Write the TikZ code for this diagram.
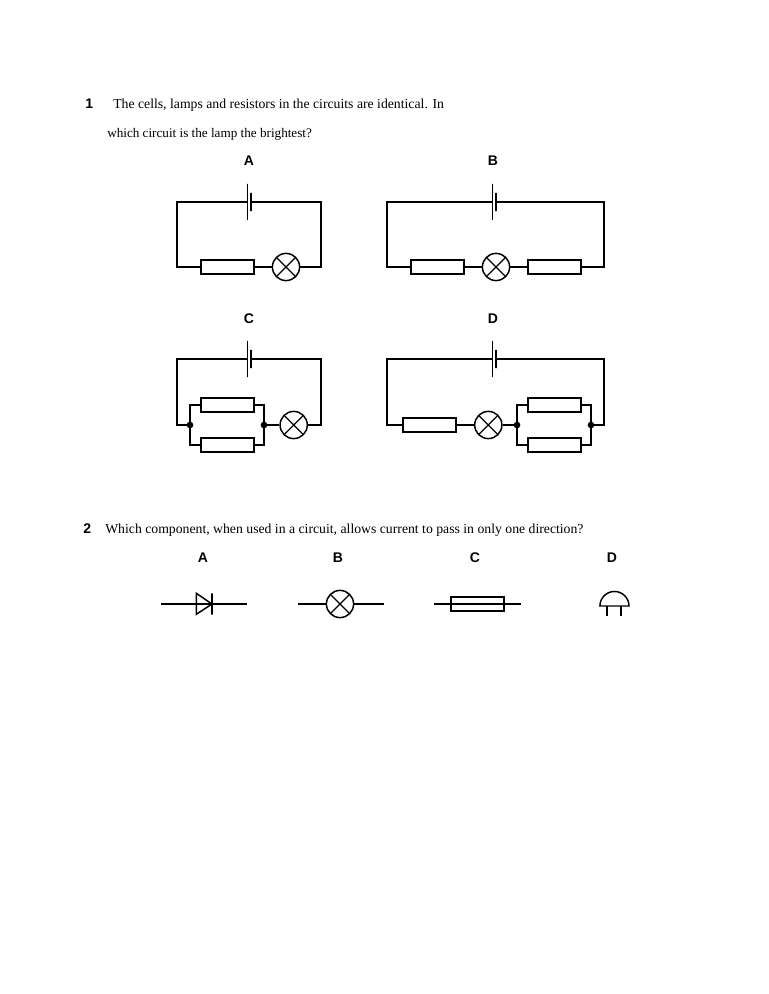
\documentclass[tikz,border=0pt]{standalone}
\usepackage{fontspec}
\setmainfont{Liberation Serif}
\setsansfont{Liberation Sans}
\tikzset{
    wire/.style={line width=1.1pt},
    resbox/.style={draw,line width=1.1pt,rectangle,inner sep=0pt,minimum width=39.75pt,minimum height=10.5pt},
    lamp/.style={draw,line width=1.1pt,circle,inner sep=0pt,minimum size=20.4pt,
        path picture={\draw[line width=.9pt] (path picture bounding box.north west) -- (path picture bounding box.south east)
            (path picture bounding box.north east) -- (path picture bounding box.south west);}},
    longplate/.style={draw,line width=.9pt,rectangle,inner sep=0pt,minimum width=0pt,minimum height=27pt},
    shortplate/.style={draw,line width=1.1pt,rectangle,inner sep=0pt,minimum width=0pt,minimum height=13.8pt},
    junction/.style={fill=black,circle,inner sep=0pt,minimum size=5pt},
    optlabel/.style={font=\sffamily\bfseries\fontsize{10.5}{12}\selectfont},
    qtext/.style={anchor=base west,inner sep=0pt,font=\fontsize{10.3}{12}\selectfont},
}
\begin{document}
\begin{tikzpicture}[x=0.75pt,y=-0.75pt]
    \useasboundingbox (0,0) rectangle (768,994);

    % question 1
    \node[optlabel,anchor=base west,inner sep=0pt] (numOne) at (85,109) {1};
    \node[qtext] (lineOne) at (113,109) {The cells, lamps and resistors in the circuits are identical. In};
    \node[qtext,font=\fontsize{9.87}{12}\selectfont] (lineTwo) at (107,137.5) {which circuit is the lamp the brightest?};
    \node[optlabel] (labelA) at (249,160.5) {A};
    \node[optlabel] (labelB) at (493,160.5) {B};
    \node[optlabel] (labelC) at (249,318.5) {C};
    \node[optlabel] (labelD) at (493,318.5) {D};

    % circuit A
    \node[longplate] (longA) at (247.5,202) {};
    \node[shortplate] (shortA) at (251,202) {};
    \node[resbox] (resA) at (227.5,267) {};
    \node[lamp] (lampA) at (286,267) {};
    \coordinate (tlA) at (177,202);
    \coordinate (trA) at (321,202);
    \coordinate (blA) at (177,267);
    \coordinate (brA) at (321,267);
    \draw[wire] (longA.center) -- (tlA) -- (blA) -- (resA.west);
    \draw[wire] (resA.east) -- (lampA.west);
    \draw[wire] (lampA.east) -- (brA) -- (trA) -- (shortA.center);

    % circuit B
    \node[longplate] (longB) at (492.5,202) {};
    \node[shortplate] (shortB) at (496,202) {};
    \node[resbox] (resBa) at (437.5,267) {};
    \node[lamp] (lampB) at (496,267) {};
    \node[resbox] (resBb) at (554.5,267) {};
    \coordinate (tlB) at (387,202);
    \coordinate (trB) at (604,202);
    \coordinate (blB) at (387,267);
    \coordinate (brB) at (604,267);
    \draw[wire] (longB.center) -- (tlB) -- (blB) -- (resBa.west);
    \draw[wire] (resBa.east) -- (lampB.west);
    \draw[wire] (lampB.east) -- (resBb.west);
    \draw[wire] (resBb.east) -- (brB) -- (trB) -- (shortB.center);

    % circuit C
    \node[longplate] (longC) at (247.5,359) {};
    \node[shortplate] (shortC) at (251,359) {};
    \node[resbox] (resCa) at (227.5,405) {};
    \node[resbox] (resCb) at (227.5,445) {};
    \node[junction] (jlC) at (190,425) {};
    \node[junction] (jrC) at (264,425) {};
    \node[lamp] (lampC) at (293.7,425) {};
    \coordinate (tlC) at (177,359);
    \coordinate (trC) at (321,359);
    \coordinate (blC) at (177,425);
    \coordinate (brC) at (321,425);
    \draw[wire] (longC.center) -- (tlC) -- (blC) -- (jlC.center);
    \draw[wire] (jlC.center) |- (resCa.west);
    \draw[wire] (jlC.center) |- (resCb.west);
    \draw[wire] (jrC.center) |- (resCa.east);
    \draw[wire] (jrC.center) |- (resCb.east);
    \draw[wire] (jrC.center) -- (lampC.west);
    \draw[wire] (lampC.east) -- (brC) -- (trC) -- (shortC.center);

    % circuit D
    \node[longplate] (longD) at (492.5,359) {};
    \node[shortplate] (shortD) at (496,359) {};
    \node[resbox] (resDa) at (429.5,425) {};
    \node[lamp] (lampD) at (488.3,425) {};
    \node[resbox] (resDb) at (554.5,405) {};
    \node[resbox] (resDc) at (554.5,445) {};
    \node[junction] (jlD) at (517,425) {};
    \node[junction] (jrD) at (591,425) {};
    \coordinate (tlD) at (387,359);
    \coordinate (trD) at (604,359);
    \coordinate (blD) at (387,425);
    \coordinate (brD) at (604,425);
    \draw[wire] (longD.center) -- (tlD) -- (blD) -- (resDa.west);
    \draw[wire] (resDa.east) -- (lampD.west);
    \draw[wire] (lampD.east) -- (jlD.center);
    \draw[wire] (jlD.center) |- (resDb.west);
    \draw[wire] (jlD.center) |- (resDc.west);
    \draw[wire] (jrD.center) |- (resDb.east);
    \draw[wire] (jrD.center) |- (resDc.east);
    \draw[wire] (jrD.center) -- (brD) -- (trD) -- (shortD.center);

    % question 2
    \node[optlabel,anchor=base west,inner sep=0pt] (numTwo) at (83,533) {2};
    \node[qtext] (lineThree) at (105,533) {Which component, when used in a circuit, allows current to pass in only one direction?};
    \node[optlabel] (labelTwoA) at (203,557.5) {A};
    \node[optlabel] (labelTwoB) at (338,557.5) {B};
    \node[optlabel] (labelTwoC) at (475,557.5) {C};
    \node[optlabel] (labelTwoD) at (612,557.5) {D};

    % diode
    \coordinate (diodeL) at (161,604);
    \coordinate (diodeR) at (247,604);
    \draw[wire] (diodeL) -- (diodeR);
    \draw[wire,line join=miter] (196.3,593.3) -- (212,604) -- (196.3,614.3) -- cycle;
    \node[draw,line width=1.1pt,inner sep=0pt,minimum width=0pt,minimum height=16pt] (diodeBar) at (212,604) {};

    % lamp
    \node[lamp] (lampQ) at (340,604) {};
    \coordinate (lampQL) at (298,604);
    \coordinate (lampQR) at (384,604);
    \draw[wire] (lampQL) -- (lampQ.west);
    \draw[wire] (lampQ.east) -- (lampQR);

    % fuse
    \node[resbox] (fuseQ) at (477.5,604) {};
    \coordinate (fuseL) at (434,604);
    \coordinate (fuseR) at (521,604);
    \draw[wire] (fuseL) -- (fuseR);

    % bell
    \coordinate (bellL) at (600,606);
    \coordinate (bellR) at (629,606);
    \draw[wire] (bellR) arc[start angle=0,end angle=180,radius=10.9pt] -- cycle;
    \draw[wire] (607,606) -- (607,616);
    \draw[wire] (621,606) -- (621,616);

\end{tikzpicture}
\end{document}
